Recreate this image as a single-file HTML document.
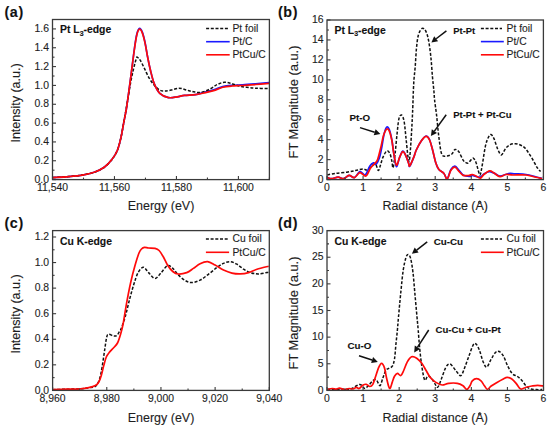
<!DOCTYPE html><html><head><meta charset="utf-8"><style>html,body{margin:0;padding:0;background:#fff;width:550px;height:428px;overflow:hidden}svg{display:block}text{font-family:"Liberation Sans", sans-serif;fill:#1e1e1e;stroke:#1e1e1e;stroke-width:0.12px}.tl{font-size:10.4px}.at{font-size:12.5px}.pl{font-size:14.3px;font-weight:bold;fill:#111;letter-spacing:0.6px}.lg{font-size:10.3px}.an{font-size:9.8px;font-weight:bold;fill:#111}.ft{font-size:12.9px}.ed{font-size:10.4px;font-weight:bold;fill:#111}</style></head><body>
<svg width="550" height="428" viewBox="0 0 550 428">
<defs>
<clipPath id="cla"><rect x="52.50" y="17.50" width="216.90" height="162.10"/></clipPath>
<clipPath id="clb"><rect x="327.00" y="18.00" width="216.40" height="161.60"/></clipPath>
<clipPath id="clc"><rect x="52.60" y="228.60" width="216.70" height="161.80"/></clipPath>
<clipPath id="cld"><rect x="327.00" y="228.60" width="216.50" height="161.80"/></clipPath>
</defs>
<g clip-path="url(#cla)">
<path d="M52.80 177.60 C55.45 177.43 63.57 177.07 68.70 176.60 C73.83 176.13 79.23 175.57 83.60 174.80 C87.97 174.03 91.47 173.25 94.90 172.00 C98.33 170.75 101.40 169.33 104.20 167.30 C107.00 165.27 109.52 162.60 111.70 159.80 C113.88 157.00 115.75 154.23 117.30 150.50 C118.85 146.77 119.92 142.08 121.00 137.40 C122.08 132.72 122.87 127.38 123.80 122.40 C124.73 117.42 125.58 113.97 126.60 107.50 C127.62 101.03 128.98 90.40 129.90 83.60 C130.82 76.80 131.32 72.75 132.10 66.70 C132.88 60.65 133.82 52.70 134.60 47.30 C135.38 41.90 136.02 37.42 136.80 34.30 C137.58 31.18 138.43 29.08 139.30 28.60 C140.17 28.12 141.07 29.22 142.00 31.40 C142.93 33.58 143.95 37.37 144.90 41.70 C145.85 46.03 146.77 52.60 147.70 57.40 C148.63 62.20 149.42 66.13 150.50 70.50 C151.58 74.87 152.65 79.80 154.20 83.60 C155.75 87.40 157.42 90.97 159.80 93.30 C162.18 95.63 165.58 97.02 168.50 97.60 C171.42 98.18 174.63 97.17 177.30 96.80 C179.97 96.43 181.47 95.77 184.50 95.40 C187.53 95.03 192.17 95.13 195.50 94.60 C198.83 94.07 201.48 92.98 204.50 92.20 C207.52 91.42 210.57 90.83 213.60 89.90 C216.63 88.97 219.67 87.37 222.70 86.60 C225.73 85.83 228.47 85.60 231.80 85.30 C235.13 85.00 238.75 85.05 242.70 84.80 C246.65 84.55 251.12 84.17 255.50 83.80 C259.88 83.43 266.75 82.80 269.00 82.60" fill="none" stroke="#1a1aff" stroke-width="1.70" stroke-linejoin="round"/>
<path d="M52.80 177.60 C55.45 177.43 63.57 177.07 68.70 176.60 C73.83 176.13 79.23 175.57 83.60 174.80 C87.97 174.03 91.47 173.25 94.90 172.00 C98.33 170.75 101.40 169.33 104.20 167.30 C107.00 165.27 109.52 162.60 111.70 159.80 C113.88 157.00 115.75 154.23 117.30 150.50 C118.85 146.77 119.88 142.32 121.00 137.40 C122.12 132.48 123.00 126.57 124.00 121.00 C125.00 115.43 125.87 110.55 127.00 104.00 C128.13 97.45 129.70 87.60 130.80 81.70 C131.90 75.80 132.67 72.50 133.60 68.60 C134.53 64.70 135.77 60.17 136.40 58.30 C137.03 56.43 136.77 57.08 137.40 57.40 C138.03 57.72 139.02 58.33 140.20 60.20 C141.38 62.07 143.00 65.60 144.50 68.60 C146.00 71.60 147.52 75.37 149.20 78.20 C150.88 81.03 152.83 83.62 154.60 85.60 C156.37 87.58 158.15 89.20 159.80 90.10 C161.45 91.00 162.63 91.00 164.50 91.00 C166.37 91.00 168.58 90.57 171.00 90.10 C173.42 89.63 176.43 88.22 179.00 88.20 C181.57 88.18 183.97 89.40 186.40 90.00 C188.83 90.60 191.18 91.40 193.60 91.80 C196.02 92.20 198.17 92.87 200.90 92.40 C203.63 91.93 207.27 90.32 210.00 89.00 C212.73 87.68 214.88 85.63 217.30 84.50 C219.72 83.37 222.08 82.35 224.50 82.20 C226.92 82.05 229.38 82.97 231.80 83.60 C234.22 84.23 236.57 85.38 239.00 86.00 C241.43 86.62 243.65 86.93 246.40 87.30 C249.15 87.67 251.90 88.00 255.50 88.20 C259.10 88.40 265.92 88.45 268.00 88.50" fill="none" stroke="#111" stroke-width="1.50" stroke-linejoin="round" stroke-dasharray="3 1.7"/>
<path d="M52.80 177.60 C55.45 177.43 63.57 177.07 68.70 176.60 C73.83 176.13 79.23 175.57 83.60 174.80 C87.97 174.03 91.47 173.25 94.90 172.00 C98.33 170.75 101.40 169.33 104.20 167.30 C107.00 165.27 109.52 162.60 111.70 159.80 C113.88 157.00 115.75 154.23 117.30 150.50 C118.85 146.77 119.92 142.08 121.00 137.40 C122.08 132.72 122.87 127.38 123.80 122.40 C124.73 117.42 125.58 113.97 126.60 107.50 C127.62 101.03 128.98 90.40 129.90 83.60 C130.82 76.80 131.32 72.63 132.10 66.70 C132.88 60.77 133.82 53.28 134.60 48.00 C135.38 42.72 136.02 38.12 136.80 35.00 C137.58 31.88 138.43 29.78 139.30 29.30 C140.17 28.82 141.07 29.92 142.00 32.10 C142.93 34.28 143.95 38.18 144.90 42.40 C145.85 46.62 146.77 52.72 147.70 57.40 C148.63 62.08 149.42 66.13 150.50 70.50 C151.58 74.87 152.65 79.80 154.20 83.60 C155.75 87.40 157.42 90.97 159.80 93.30 C162.18 95.63 165.58 97.02 168.50 97.60 C171.42 98.18 174.63 97.17 177.30 96.80 C179.97 96.43 181.47 95.77 184.50 95.40 C187.53 95.03 192.17 95.02 195.50 94.60 C198.83 94.18 201.48 93.57 204.50 92.90 C207.52 92.23 210.57 91.53 213.60 90.60 C216.63 89.67 219.67 88.07 222.70 87.30 C225.73 86.53 228.47 86.30 231.80 86.00 C235.13 85.70 238.75 85.75 242.70 85.50 C246.65 85.25 251.12 84.87 255.50 84.50 C259.88 84.13 266.75 83.50 269.00 83.30" fill="none" stroke="#ff0a0a" stroke-width="1.70" stroke-linejoin="round"/>
</g>
<g clip-path="url(#clb)">
<path d="M327.30 174.90 C328.73 174.63 332.65 173.75 335.90 173.30 C339.15 172.85 343.53 172.67 346.80 172.20 C350.07 171.73 352.77 171.05 355.50 170.50 C358.23 169.95 361.28 168.98 363.20 168.90 C365.12 168.82 365.55 170.55 367.00 170.00 C368.45 169.45 370.45 166.52 371.90 165.60 C373.35 164.68 374.62 163.68 375.70 164.50 C376.78 165.32 377.60 170.42 378.40 170.50 C379.20 170.58 379.75 167.18 380.50 165.00 C381.25 162.82 381.87 159.73 382.90 157.40 C383.93 155.07 385.53 151.63 386.70 151.00 C387.87 150.37 389.03 151.88 389.90 153.60 C390.77 155.32 391.37 158.95 391.90 161.30 C392.43 163.65 392.57 168.98 393.10 167.70 C393.63 166.42 394.45 159.17 395.10 153.60 C395.75 148.03 396.37 140.08 397.00 134.30 C397.63 128.52 398.15 122.12 398.90 118.90 C399.65 115.68 400.63 114.58 401.50 115.00 C402.37 115.42 403.35 117.55 404.10 121.40 C404.85 125.25 405.37 132.32 406.00 138.10 C406.63 143.88 407.37 152.23 407.90 156.10 C408.43 159.97 408.77 162.58 409.20 161.30 C409.63 160.02 410.07 153.97 410.50 148.40 C410.93 142.83 411.45 133.97 411.80 127.90 C412.15 121.83 412.28 119.38 412.60 112.00 C412.92 104.62 413.27 91.15 413.70 83.60 C414.13 76.05 414.73 72.63 415.20 66.70 C415.67 60.77 415.97 53.28 416.50 48.00 C417.03 42.72 417.47 38.27 418.40 35.00 C419.33 31.73 420.87 29.03 422.10 28.40 C423.33 27.77 424.72 29.17 425.80 31.20 C426.88 33.23 427.75 36.23 428.60 40.60 C429.45 44.97 430.27 51.48 430.90 57.40 C431.53 63.32 431.90 70.50 432.40 76.10 C432.90 81.70 433.53 87.02 433.90 91.00 C434.27 94.98 434.15 95.93 434.60 100.00 C435.05 104.07 435.92 109.45 436.60 115.40 C437.28 121.35 437.85 129.27 438.70 135.70 C439.55 142.13 440.35 150.62 441.70 154.00 C443.05 157.38 445.10 156.00 446.80 156.00 C448.50 156.00 450.53 155.08 451.90 154.00 C453.27 152.92 453.82 149.83 455.00 149.50 C456.18 149.17 457.65 150.23 459.00 152.00 C460.35 153.77 461.73 158.23 463.10 160.10 C464.47 161.97 466.05 163.03 467.20 163.20 C468.35 163.37 469.03 161.95 470.00 161.10 C470.97 160.25 472.02 157.92 473.00 158.10 C473.98 158.28 474.93 159.82 475.90 162.20 C476.87 164.58 478.07 170.35 478.80 172.40 C479.53 174.45 479.68 175.97 480.30 174.50 C480.92 173.03 481.65 168.32 482.50 163.60 C483.35 158.88 484.43 150.55 485.40 146.20 C486.37 141.85 487.38 139.45 488.30 137.50 C489.22 135.55 489.93 134.27 490.90 134.50 C491.87 134.73 492.97 136.47 494.10 138.90 C495.23 141.33 496.48 146.43 497.70 149.10 C498.92 151.77 500.07 155.02 501.40 154.90 C502.73 154.78 504.25 150.10 505.70 148.40 C507.15 146.70 508.52 145.48 510.10 144.70 C511.68 143.92 513.50 143.65 515.20 143.70 C516.90 143.75 518.73 144.35 520.30 145.00 C521.87 145.65 523.15 146.18 524.60 147.60 C526.05 149.02 527.53 151.32 529.00 153.50 C530.47 155.68 532.07 158.40 533.40 160.70 C534.73 163.00 535.80 165.48 537.00 167.30 C538.20 169.12 540.00 170.88 540.60 171.60" fill="none" stroke="#111" stroke-width="1.50" stroke-linejoin="round" stroke-dasharray="3 1.7"/>
<path d="M327.30 177.40 C328.00 177.62 329.70 178.75 331.50 178.70 C333.30 178.65 336.10 177.10 338.10 177.10 C340.10 177.10 341.68 178.98 343.50 178.70 C345.32 178.42 347.18 175.58 349.00 175.40 C350.82 175.22 352.58 178.23 354.40 177.60 C356.22 176.97 358.08 172.05 359.90 171.60 C361.72 171.15 363.67 175.80 365.30 174.90 C366.93 174.00 368.33 168.20 369.70 166.20 C371.07 164.20 372.40 163.27 373.50 162.90 C374.60 162.53 375.30 164.90 376.30 164.00 C377.30 163.10 378.55 160.50 379.50 157.50 C380.45 154.50 381.25 149.83 382.00 146.00 C382.75 142.17 383.22 137.63 384.00 134.50 C384.78 131.37 385.82 128.03 386.70 127.20 C387.58 126.37 388.43 127.37 389.30 129.50 C390.17 131.63 391.15 135.98 391.90 140.00 C392.65 144.02 393.05 149.18 393.80 153.60 C394.55 158.02 395.43 165.87 396.40 166.50 C397.37 167.13 398.53 159.95 399.60 157.40 C400.67 154.85 401.73 151.42 402.80 151.20 C403.87 150.98 405.03 154.10 406.00 156.10 C406.97 158.10 407.97 161.50 408.60 163.20 C409.23 164.90 408.95 167.27 409.80 166.30 C410.65 165.33 412.62 160.12 413.70 157.40 C414.78 154.68 415.02 152.77 416.30 150.00 C417.58 147.23 419.78 143.13 421.40 140.80 C423.02 138.47 424.65 136.22 426.00 136.00 C427.35 135.78 428.40 137.17 429.50 139.50 C430.60 141.83 431.58 146.22 432.60 150.00 C433.62 153.78 434.58 158.98 435.60 162.20 C436.62 165.42 437.33 167.45 438.70 169.30 C440.07 171.15 442.38 171.72 443.80 173.30 C445.22 174.88 446.02 179.43 447.20 178.80 C448.38 178.17 449.62 171.60 450.90 169.50 C452.18 167.40 453.55 166.07 454.90 166.20 C456.25 166.33 457.63 168.83 459.00 170.30 C460.37 171.77 461.40 173.97 463.10 175.00 C464.80 176.03 467.67 176.42 469.20 176.50 C470.73 176.58 471.18 175.50 472.30 175.50 C473.42 175.50 474.57 176.25 475.90 176.50 C477.23 176.75 478.97 177.42 480.30 177.00 C481.63 176.58 482.45 174.90 483.90 174.00 C485.35 173.10 487.30 171.75 489.00 171.60 C490.70 171.45 492.28 172.37 494.10 173.10 C495.92 173.83 497.48 175.93 499.90 176.00 C502.32 176.07 506.08 173.87 508.60 173.50 C511.12 173.13 512.10 173.63 515.00 173.80 C517.90 173.97 522.70 174.05 526.00 174.50 C529.30 174.95 532.12 175.83 534.80 176.50 C537.48 177.17 540.88 178.17 542.10 178.50" fill="none" stroke="#1a1aff" stroke-width="1.70" stroke-linejoin="round"/>
<path d="M327.30 177.40 C328.00 177.62 329.70 178.75 331.50 178.70 C333.30 178.65 336.10 177.10 338.10 177.10 C340.10 177.10 341.68 178.98 343.50 178.70 C345.32 178.42 347.18 175.58 349.00 175.40 C350.82 175.22 352.58 178.05 354.40 177.60 C356.22 177.15 357.98 172.97 359.90 172.70 C361.82 172.43 364.12 176.78 365.90 176.00 C367.68 175.22 369.20 170.00 370.60 168.00 C372.00 166.00 373.15 165.37 374.30 164.00 C375.45 162.63 376.40 162.62 377.50 159.80 C378.60 156.98 379.90 151.13 380.90 147.10 C381.90 143.07 382.53 138.60 383.50 135.60 C384.47 132.60 385.73 129.85 386.70 129.10 C387.67 128.35 388.43 129.17 389.30 131.10 C390.17 133.03 391.15 136.95 391.90 140.70 C392.65 144.45 393.05 149.53 393.80 153.60 C394.55 157.67 395.43 164.47 396.40 165.10 C397.37 165.73 398.53 159.65 399.60 157.40 C400.67 155.15 401.73 151.82 402.80 151.60 C403.87 151.38 405.03 154.17 406.00 156.10 C406.97 158.03 407.97 161.58 408.60 163.20 C409.23 164.82 408.95 166.77 409.80 165.80 C410.65 164.83 412.62 160.03 413.70 157.40 C414.78 154.77 415.02 152.77 416.30 150.00 C417.58 147.23 419.78 143.08 421.40 140.80 C423.02 138.52 424.65 136.47 426.00 136.30 C427.35 136.13 428.40 137.52 429.50 139.80 C430.60 142.08 431.58 146.27 432.60 150.00 C433.62 153.73 434.58 158.98 435.60 162.20 C436.62 165.42 437.33 167.45 438.70 169.30 C440.07 171.15 442.38 171.72 443.80 173.30 C445.22 174.88 446.02 179.30 447.20 178.80 C448.38 178.30 449.62 172.23 450.90 170.30 C452.18 168.37 453.55 167.03 454.90 167.20 C456.25 167.37 457.63 169.93 459.00 171.30 C460.37 172.67 461.40 174.72 463.10 175.40 C464.80 176.08 467.67 175.55 469.20 175.40 C470.73 175.25 471.18 174.40 472.30 174.50 C473.42 174.60 474.57 175.38 475.90 176.00 C477.23 176.62 478.97 178.45 480.30 178.20 C481.63 177.95 482.33 175.72 483.90 174.50 C485.47 173.28 488.00 171.13 489.70 170.90 C491.40 170.67 492.40 172.13 494.10 173.10 C495.80 174.07 497.97 176.47 499.90 176.70 C501.83 176.93 503.52 174.78 505.70 174.50 C507.88 174.22 509.60 174.92 513.00 175.00 C516.40 175.08 522.47 174.67 526.10 175.00 C529.73 175.33 532.13 176.42 534.80 177.00 C537.47 177.58 540.88 178.25 542.10 178.50" fill="none" stroke="#ff0a0a" stroke-width="1.70" stroke-linejoin="round"/>
</g>
<g clip-path="url(#clc)">
<path d="M52.50 389.70 C54.88 389.62 62.17 389.33 66.80 389.20 C71.43 389.07 76.65 389.15 80.30 388.90 C83.95 388.65 86.18 388.12 88.70 387.70 C91.22 387.28 93.58 387.88 95.40 386.40 C97.22 384.92 98.48 382.02 99.60 378.80 C100.72 375.58 101.27 371.85 102.10 367.10 C102.93 362.35 103.82 355.35 104.60 350.30 C105.38 345.25 106.10 339.47 106.80 336.80 C107.50 334.13 107.62 334.43 108.80 334.30 C109.98 334.17 112.50 335.87 113.90 336.00 C115.30 336.13 116.23 335.95 117.20 335.10 C118.17 334.25 119.02 332.03 119.70 330.90 C120.38 329.77 120.33 330.83 121.30 328.30 C122.27 325.77 124.10 320.60 125.50 315.70 C126.90 310.80 128.30 304.17 129.70 298.90 C131.10 293.63 132.50 288.48 133.90 284.10 C135.30 279.72 136.52 275.40 138.10 272.60 C139.68 269.80 141.65 267.30 143.40 267.30 C145.15 267.30 146.67 270.73 148.60 272.60 C150.53 274.47 152.90 278.50 155.00 278.50 C157.10 278.50 159.10 274.75 161.20 272.60 C163.30 270.45 165.67 266.30 167.60 265.60 C169.53 264.90 171.05 266.88 172.80 268.40 C174.55 269.92 176.07 272.70 178.10 274.70 C180.13 276.70 182.73 279.08 185.00 280.40 C187.27 281.72 189.18 282.65 191.70 282.60 C194.22 282.55 197.32 281.48 200.10 280.10 C202.88 278.72 205.62 276.38 208.40 274.30 C211.18 272.22 214.28 269.42 216.80 267.60 C219.32 265.78 221.27 264.38 223.50 263.40 C225.73 262.42 227.97 261.57 230.20 261.70 C232.43 261.83 234.67 262.95 236.90 264.20 C239.13 265.45 241.37 267.80 243.60 269.20 C245.83 270.60 247.80 271.82 250.30 272.60 C252.80 273.38 255.53 273.98 258.60 273.90 C261.67 273.82 267.02 272.40 268.70 272.10" fill="none" stroke="#111" stroke-width="1.50" stroke-linejoin="round" stroke-dasharray="3 1.7"/>
<path d="M52.50 389.70 C54.88 389.62 62.17 389.33 66.80 389.20 C71.43 389.07 76.65 389.15 80.30 388.90 C83.95 388.65 86.18 388.27 88.70 387.70 C91.22 387.13 93.73 386.42 95.40 385.50 C97.07 384.58 97.72 383.87 98.70 382.20 C99.68 380.53 100.45 378.30 101.30 375.50 C102.15 372.70 102.97 368.48 103.80 365.40 C104.63 362.32 105.32 359.25 106.30 357.00 C107.28 354.75 108.43 353.48 109.70 351.90 C110.97 350.32 112.60 348.98 113.90 347.50 C115.20 346.02 116.40 345.17 117.50 343.00 C118.60 340.83 119.55 337.75 120.50 334.50 C121.45 331.25 122.18 328.73 123.20 323.50 C124.22 318.27 125.33 310.02 126.60 303.10 C127.87 296.18 129.40 288.27 130.80 282.00 C132.20 275.73 133.63 270.33 135.00 265.50 C136.37 260.67 137.92 255.75 139.00 253.00 C140.08 250.25 140.58 249.93 141.50 249.00 C142.42 248.07 143.32 247.57 144.50 247.40 C145.68 247.23 146.85 247.83 148.60 248.00 C150.35 248.17 153.25 247.98 155.00 248.40 C156.75 248.82 157.72 249.10 159.10 250.50 C160.48 251.90 161.88 254.35 163.30 256.80 C164.72 259.25 166.02 262.75 167.60 265.20 C169.18 267.65 171.05 270.03 172.80 271.50 C174.55 272.97 175.78 273.82 178.10 274.00 C180.42 274.18 184.15 273.53 186.70 272.60 C189.25 271.67 191.17 269.88 193.40 268.40 C195.63 266.92 197.73 264.82 200.10 263.70 C202.47 262.58 205.10 261.47 207.60 261.70 C210.10 261.93 212.45 263.70 215.10 265.10 C217.75 266.50 220.70 268.77 223.50 270.10 C226.30 271.43 229.12 272.47 231.90 273.10 C234.68 273.73 237.42 273.98 240.20 273.90 C242.98 273.82 245.80 273.38 248.60 272.60 C251.40 271.82 253.65 270.27 257.00 269.20 C260.35 268.13 266.75 266.70 268.70 266.20" fill="none" stroke="#ff0a0a" stroke-width="1.70" stroke-linejoin="round"/>
</g>
<g clip-path="url(#cld)">
<path d="M327.20 389.20 C330.17 389.20 341.03 389.27 345.00 389.20 C348.97 389.13 349.25 389.28 351.00 388.80 C352.75 388.32 354.08 387.02 355.50 386.30 C356.92 385.58 358.42 384.63 359.50 384.50 C360.58 384.37 361.12 384.82 362.00 385.50 C362.88 386.18 363.73 388.57 364.80 388.60 C365.87 388.63 367.07 387.02 368.40 385.70 C369.73 384.38 371.47 381.65 372.80 380.70 C374.13 379.75 375.20 379.17 376.40 380.00 C377.60 380.83 378.92 386.07 380.00 385.70 C381.08 385.33 381.93 380.33 382.90 377.80 C383.87 375.27 384.83 372.07 385.80 370.50 C386.77 368.93 387.62 369.12 388.70 368.40 C389.78 367.68 391.33 367.77 392.30 366.20 C393.27 364.63 393.90 362.62 394.50 359.00 C395.10 355.38 395.42 349.33 395.90 344.50 C396.38 339.67 396.97 334.58 397.40 330.00 C397.83 325.42 397.92 323.43 398.50 317.00 C399.08 310.57 400.12 299.17 400.90 291.40 C401.68 283.63 402.35 276.05 403.20 270.40 C404.05 264.75 405.15 260.15 406.00 257.50 C406.85 254.85 407.52 254.30 408.30 254.50 C409.08 254.70 409.92 255.67 410.70 258.70 C411.48 261.73 412.30 266.87 413.00 272.70 C413.70 278.53 414.23 286.32 414.90 293.70 C415.57 301.08 416.45 310.95 417.00 317.00 C417.55 323.05 417.77 324.93 418.20 330.00 C418.63 335.07 419.00 341.37 419.60 347.40 C420.20 353.43 420.95 360.77 421.80 366.20 C422.65 371.63 423.73 378.32 424.70 380.00 C425.67 381.68 426.52 376.67 427.60 376.30 C428.68 375.93 430.00 376.58 431.20 377.80 C432.40 379.02 433.72 382.03 434.80 383.60 C435.88 385.17 436.62 387.93 437.70 387.20 C438.78 386.47 439.97 382.47 441.30 379.20 C442.63 375.93 444.25 370.13 445.70 367.60 C447.15 365.07 448.32 363.52 450.00 364.00 C451.68 364.48 453.98 368.57 455.80 370.50 C457.62 372.43 459.33 376.32 460.90 375.60 C462.47 374.88 463.78 369.68 465.20 366.20 C466.62 362.72 468.10 358.18 469.40 354.70 C470.70 351.22 471.92 347.12 473.00 345.30 C474.08 343.48 474.82 342.95 475.90 343.80 C476.98 344.65 478.28 347.37 479.50 350.40 C480.72 353.43 481.98 359.22 483.20 362.00 C484.42 364.78 485.47 367.58 486.80 367.10 C488.13 366.62 489.75 361.53 491.20 359.10 C492.65 356.67 494.17 353.77 495.50 352.50 C496.83 351.23 497.87 350.88 499.20 351.50 C500.53 352.12 502.05 353.72 503.50 356.20 C504.95 358.68 506.43 363.50 507.90 366.40 C509.37 369.30 510.72 371.92 512.30 373.60 C513.88 375.28 515.83 375.40 517.40 376.50 C518.97 377.60 520.25 378.62 521.70 380.20 C523.15 381.78 524.63 384.55 526.10 386.00 C527.57 387.45 528.80 388.30 530.50 388.90 C532.20 389.50 534.37 389.48 536.30 389.60 C538.23 389.72 541.13 389.60 542.10 389.60" fill="none" stroke="#111" stroke-width="1.50" stroke-linejoin="round" stroke-dasharray="3 1.7"/>
<path d="M327.20 389.50 C328.05 389.33 330.85 388.55 332.30 388.50 C333.75 388.45 334.70 389.25 335.90 389.20 C337.10 389.15 338.05 388.15 339.50 388.20 C340.95 388.25 343.02 389.45 344.60 389.50 C346.18 389.55 347.60 388.58 349.00 388.50 C350.40 388.42 351.78 389.18 353.00 389.00 C354.22 388.82 355.27 387.48 356.30 387.40 C357.33 387.32 358.12 388.87 359.20 388.50 C360.28 388.13 361.62 385.90 362.80 385.20 C363.98 384.50 365.12 384.08 366.30 384.30 C367.48 384.52 368.82 386.50 369.90 386.50 C370.98 386.50 371.83 386.00 372.80 384.30 C373.77 382.60 374.73 379.08 375.70 376.30 C376.67 373.52 377.63 369.77 378.60 367.60 C379.57 365.43 380.53 363.30 381.50 363.30 C382.47 363.30 383.57 365.18 384.40 367.60 C385.23 370.02 385.78 374.65 386.50 377.80 C387.22 380.95 388.08 384.77 388.70 386.50 C389.32 388.23 389.60 388.93 390.20 388.20 C390.80 387.47 391.58 384.08 392.30 382.10 C393.02 380.12 393.65 377.75 394.50 376.30 C395.35 374.85 396.35 373.52 397.40 373.40 C398.45 373.28 399.75 376.08 400.80 375.60 C401.85 375.12 402.62 372.78 403.70 370.50 C404.78 368.22 405.98 364.18 407.30 361.90 C408.62 359.62 410.03 357.42 411.60 356.80 C413.17 356.18 415.00 357.12 416.70 358.20 C418.40 359.28 420.23 361.25 421.80 363.30 C423.37 365.35 424.65 368.08 426.10 370.50 C427.55 372.92 428.93 375.87 430.50 377.80 C432.07 379.73 433.57 380.90 435.50 382.10 C437.43 383.30 439.92 384.80 442.10 385.00 C444.28 385.20 446.07 383.58 448.60 383.30 C451.13 383.02 454.90 382.90 457.30 383.30 C459.70 383.70 461.43 384.68 463.00 385.70 C464.57 386.72 465.53 389.40 466.70 389.40 C467.87 389.40 469.07 387.12 470.00 385.70 C470.93 384.28 471.20 382.07 472.30 380.90 C473.40 379.73 475.15 378.70 476.60 378.70 C478.05 378.70 479.67 379.68 481.00 380.90 C482.33 382.12 483.52 384.60 484.60 386.00 C485.68 387.40 486.40 389.30 487.50 389.30 C488.60 389.30 489.62 387.15 491.20 386.00 C492.78 384.85 495.07 383.53 497.00 382.40 C498.93 381.27 501.10 380.05 502.80 379.20 C504.50 378.35 505.75 377.38 507.20 377.30 C508.65 377.22 510.05 377.73 511.50 378.70 C512.95 379.67 514.57 381.52 515.90 383.10 C517.23 384.68 518.53 387.22 519.50 388.20 C520.47 389.18 520.60 389.17 521.70 389.00 C522.80 388.83 524.40 387.70 526.10 387.20 C527.80 386.70 529.97 386.32 531.90 386.00 C533.83 385.68 535.77 385.30 537.70 385.30 C539.63 385.30 542.53 385.88 543.50 386.00" fill="none" stroke="#ff0a0a" stroke-width="1.70" stroke-linejoin="round"/>
</g>
<rect x="52.50" y="19.50" width="216.90" height="160.10" fill="none" stroke="#3a3a3a" stroke-width="1.30"/>
<rect x="327.00" y="20.00" width="216.40" height="159.60" fill="none" stroke="#3a3a3a" stroke-width="1.30"/>
<rect x="52.60" y="230.60" width="216.70" height="159.80" fill="none" stroke="#3a3a3a" stroke-width="1.30"/>
<rect x="327.00" y="230.60" width="216.50" height="159.80" fill="none" stroke="#3a3a3a" stroke-width="1.30"/>
<line x1="52.50" y1="179.60" x2="52.50" y2="176.10" stroke="#3a3a3a" stroke-width="1.1"/>
<text x="52.50" y="191.40" text-anchor="middle" class="tl">11,540</text>
<line x1="83.49" y1="179.60" x2="83.49" y2="177.60" stroke="#3a3a3a" stroke-width="1.1"/>
<line x1="114.47" y1="179.60" x2="114.47" y2="176.10" stroke="#3a3a3a" stroke-width="1.1"/>
<text x="114.47" y="191.40" text-anchor="middle" class="tl">11,560</text>
<line x1="145.46" y1="179.60" x2="145.46" y2="177.60" stroke="#3a3a3a" stroke-width="1.1"/>
<line x1="176.44" y1="179.60" x2="176.44" y2="176.10" stroke="#3a3a3a" stroke-width="1.1"/>
<text x="176.44" y="191.40" text-anchor="middle" class="tl">11,580</text>
<line x1="207.43" y1="179.60" x2="207.43" y2="177.60" stroke="#3a3a3a" stroke-width="1.1"/>
<line x1="238.41" y1="179.60" x2="238.41" y2="176.10" stroke="#3a3a3a" stroke-width="1.1"/>
<text x="238.41" y="191.40" text-anchor="middle" class="tl">11,600</text>
<line x1="269.40" y1="179.60" x2="269.40" y2="177.60" stroke="#3a3a3a" stroke-width="1.1"/>
<line x1="52.50" y1="179.60" x2="56.00" y2="179.60" stroke="#3a3a3a" stroke-width="1.1"/>
<text x="49.00" y="182.70" text-anchor="end" class="tl">0.0</text>
<line x1="52.50" y1="170.18" x2="54.50" y2="170.18" stroke="#3a3a3a" stroke-width="1.1"/>
<line x1="52.50" y1="160.76" x2="56.00" y2="160.76" stroke="#3a3a3a" stroke-width="1.1"/>
<text x="49.00" y="163.86" text-anchor="end" class="tl">0.2</text>
<line x1="52.50" y1="151.35" x2="54.50" y2="151.35" stroke="#3a3a3a" stroke-width="1.1"/>
<line x1="52.50" y1="141.93" x2="56.00" y2="141.93" stroke="#3a3a3a" stroke-width="1.1"/>
<text x="49.00" y="145.03" text-anchor="end" class="tl">0.4</text>
<line x1="52.50" y1="132.51" x2="54.50" y2="132.51" stroke="#3a3a3a" stroke-width="1.1"/>
<line x1="52.50" y1="123.09" x2="56.00" y2="123.09" stroke="#3a3a3a" stroke-width="1.1"/>
<text x="49.00" y="126.19" text-anchor="end" class="tl">0.6</text>
<line x1="52.50" y1="113.68" x2="54.50" y2="113.68" stroke="#3a3a3a" stroke-width="1.1"/>
<line x1="52.50" y1="104.26" x2="56.00" y2="104.26" stroke="#3a3a3a" stroke-width="1.1"/>
<text x="49.00" y="107.36" text-anchor="end" class="tl">0.8</text>
<line x1="52.50" y1="94.84" x2="54.50" y2="94.84" stroke="#3a3a3a" stroke-width="1.1"/>
<line x1="52.50" y1="85.42" x2="56.00" y2="85.42" stroke="#3a3a3a" stroke-width="1.1"/>
<text x="49.00" y="88.52" text-anchor="end" class="tl">1.0</text>
<line x1="52.50" y1="76.01" x2="54.50" y2="76.01" stroke="#3a3a3a" stroke-width="1.1"/>
<line x1="52.50" y1="66.59" x2="56.00" y2="66.59" stroke="#3a3a3a" stroke-width="1.1"/>
<text x="49.00" y="69.69" text-anchor="end" class="tl">1.2</text>
<line x1="52.50" y1="57.17" x2="54.50" y2="57.17" stroke="#3a3a3a" stroke-width="1.1"/>
<line x1="52.50" y1="47.75" x2="56.00" y2="47.75" stroke="#3a3a3a" stroke-width="1.1"/>
<text x="49.00" y="50.85" text-anchor="end" class="tl">1.4</text>
<line x1="52.50" y1="38.34" x2="54.50" y2="38.34" stroke="#3a3a3a" stroke-width="1.1"/>
<line x1="52.50" y1="28.92" x2="56.00" y2="28.92" stroke="#3a3a3a" stroke-width="1.1"/>
<text x="49.00" y="32.02" text-anchor="end" class="tl">1.6</text>
<line x1="327.00" y1="179.60" x2="327.00" y2="176.10" stroke="#3a3a3a" stroke-width="1.1"/>
<text x="327.00" y="191.40" text-anchor="middle" class="tl">0</text>
<line x1="345.03" y1="179.60" x2="345.03" y2="177.60" stroke="#3a3a3a" stroke-width="1.1"/>
<line x1="363.07" y1="179.60" x2="363.07" y2="176.10" stroke="#3a3a3a" stroke-width="1.1"/>
<text x="363.07" y="191.40" text-anchor="middle" class="tl">1</text>
<line x1="381.10" y1="179.60" x2="381.10" y2="177.60" stroke="#3a3a3a" stroke-width="1.1"/>
<line x1="399.13" y1="179.60" x2="399.13" y2="176.10" stroke="#3a3a3a" stroke-width="1.1"/>
<text x="399.13" y="191.40" text-anchor="middle" class="tl">2</text>
<line x1="417.17" y1="179.60" x2="417.17" y2="177.60" stroke="#3a3a3a" stroke-width="1.1"/>
<line x1="435.20" y1="179.60" x2="435.20" y2="176.10" stroke="#3a3a3a" stroke-width="1.1"/>
<text x="435.20" y="191.40" text-anchor="middle" class="tl">3</text>
<line x1="453.23" y1="179.60" x2="453.23" y2="177.60" stroke="#3a3a3a" stroke-width="1.1"/>
<line x1="471.27" y1="179.60" x2="471.27" y2="176.10" stroke="#3a3a3a" stroke-width="1.1"/>
<text x="471.27" y="191.40" text-anchor="middle" class="tl">4</text>
<line x1="489.30" y1="179.60" x2="489.30" y2="177.60" stroke="#3a3a3a" stroke-width="1.1"/>
<line x1="507.33" y1="179.60" x2="507.33" y2="176.10" stroke="#3a3a3a" stroke-width="1.1"/>
<text x="507.33" y="191.40" text-anchor="middle" class="tl">5</text>
<line x1="525.37" y1="179.60" x2="525.37" y2="177.60" stroke="#3a3a3a" stroke-width="1.1"/>
<line x1="543.40" y1="179.60" x2="543.40" y2="176.10" stroke="#3a3a3a" stroke-width="1.1"/>
<text x="543.40" y="191.40" text-anchor="middle" class="tl">6</text>
<line x1="327.00" y1="179.60" x2="330.50" y2="179.60" stroke="#3a3a3a" stroke-width="1.1"/>
<text x="323.50" y="182.70" text-anchor="end" class="tl">0</text>
<line x1="327.00" y1="169.62" x2="329.00" y2="169.62" stroke="#3a3a3a" stroke-width="1.1"/>
<line x1="327.00" y1="159.65" x2="330.50" y2="159.65" stroke="#3a3a3a" stroke-width="1.1"/>
<text x="323.50" y="162.75" text-anchor="end" class="tl">2</text>
<line x1="327.00" y1="149.68" x2="329.00" y2="149.68" stroke="#3a3a3a" stroke-width="1.1"/>
<line x1="327.00" y1="139.70" x2="330.50" y2="139.70" stroke="#3a3a3a" stroke-width="1.1"/>
<text x="323.50" y="142.80" text-anchor="end" class="tl">4</text>
<line x1="327.00" y1="129.72" x2="329.00" y2="129.72" stroke="#3a3a3a" stroke-width="1.1"/>
<line x1="327.00" y1="119.75" x2="330.50" y2="119.75" stroke="#3a3a3a" stroke-width="1.1"/>
<text x="323.50" y="122.85" text-anchor="end" class="tl">6</text>
<line x1="327.00" y1="109.77" x2="329.00" y2="109.77" stroke="#3a3a3a" stroke-width="1.1"/>
<line x1="327.00" y1="99.80" x2="330.50" y2="99.80" stroke="#3a3a3a" stroke-width="1.1"/>
<text x="323.50" y="102.90" text-anchor="end" class="tl">8</text>
<line x1="327.00" y1="89.83" x2="329.00" y2="89.83" stroke="#3a3a3a" stroke-width="1.1"/>
<line x1="327.00" y1="79.85" x2="330.50" y2="79.85" stroke="#3a3a3a" stroke-width="1.1"/>
<text x="323.50" y="82.95" text-anchor="end" class="tl">10</text>
<line x1="327.00" y1="69.88" x2="329.00" y2="69.88" stroke="#3a3a3a" stroke-width="1.1"/>
<line x1="327.00" y1="59.90" x2="330.50" y2="59.90" stroke="#3a3a3a" stroke-width="1.1"/>
<text x="323.50" y="63.00" text-anchor="end" class="tl">12</text>
<line x1="327.00" y1="49.93" x2="329.00" y2="49.93" stroke="#3a3a3a" stroke-width="1.1"/>
<line x1="327.00" y1="39.95" x2="330.50" y2="39.95" stroke="#3a3a3a" stroke-width="1.1"/>
<text x="323.50" y="43.05" text-anchor="end" class="tl">14</text>
<line x1="327.00" y1="29.97" x2="329.00" y2="29.97" stroke="#3a3a3a" stroke-width="1.1"/>
<line x1="327.00" y1="20.00" x2="330.50" y2="20.00" stroke="#3a3a3a" stroke-width="1.1"/>
<text x="323.50" y="23.10" text-anchor="end" class="tl">16</text>
<line x1="52.60" y1="390.40" x2="52.60" y2="386.90" stroke="#3a3a3a" stroke-width="1.1"/>
<text x="52.60" y="402.20" text-anchor="middle" class="tl">8,960</text>
<line x1="79.69" y1="390.40" x2="79.69" y2="388.40" stroke="#3a3a3a" stroke-width="1.1"/>
<line x1="106.78" y1="390.40" x2="106.78" y2="386.90" stroke="#3a3a3a" stroke-width="1.1"/>
<text x="106.78" y="402.20" text-anchor="middle" class="tl">8,980</text>
<line x1="133.86" y1="390.40" x2="133.86" y2="388.40" stroke="#3a3a3a" stroke-width="1.1"/>
<line x1="160.95" y1="390.40" x2="160.95" y2="386.90" stroke="#3a3a3a" stroke-width="1.1"/>
<text x="160.95" y="402.20" text-anchor="middle" class="tl">9,000</text>
<line x1="188.04" y1="390.40" x2="188.04" y2="388.40" stroke="#3a3a3a" stroke-width="1.1"/>
<line x1="215.12" y1="390.40" x2="215.12" y2="386.90" stroke="#3a3a3a" stroke-width="1.1"/>
<text x="215.12" y="402.20" text-anchor="middle" class="tl">9,020</text>
<line x1="242.21" y1="390.40" x2="242.21" y2="388.40" stroke="#3a3a3a" stroke-width="1.1"/>
<line x1="269.30" y1="390.40" x2="269.30" y2="386.90" stroke="#3a3a3a" stroke-width="1.1"/>
<text x="269.30" y="402.20" text-anchor="middle" class="tl">9,040</text>
<line x1="52.60" y1="390.40" x2="56.10" y2="390.40" stroke="#3a3a3a" stroke-width="1.1"/>
<text x="49.10" y="393.50" text-anchor="end" class="tl">0.0</text>
<line x1="52.60" y1="377.62" x2="54.60" y2="377.62" stroke="#3a3a3a" stroke-width="1.1"/>
<line x1="52.60" y1="364.83" x2="56.10" y2="364.83" stroke="#3a3a3a" stroke-width="1.1"/>
<text x="49.10" y="367.93" text-anchor="end" class="tl">0.2</text>
<line x1="52.60" y1="352.05" x2="54.60" y2="352.05" stroke="#3a3a3a" stroke-width="1.1"/>
<line x1="52.60" y1="339.26" x2="56.10" y2="339.26" stroke="#3a3a3a" stroke-width="1.1"/>
<text x="49.10" y="342.36" text-anchor="end" class="tl">0.4</text>
<line x1="52.60" y1="326.48" x2="54.60" y2="326.48" stroke="#3a3a3a" stroke-width="1.1"/>
<line x1="52.60" y1="313.70" x2="56.10" y2="313.70" stroke="#3a3a3a" stroke-width="1.1"/>
<text x="49.10" y="316.80" text-anchor="end" class="tl">0.6</text>
<line x1="52.60" y1="300.91" x2="54.60" y2="300.91" stroke="#3a3a3a" stroke-width="1.1"/>
<line x1="52.60" y1="288.13" x2="56.10" y2="288.13" stroke="#3a3a3a" stroke-width="1.1"/>
<text x="49.10" y="291.23" text-anchor="end" class="tl">0.8</text>
<line x1="52.60" y1="275.34" x2="54.60" y2="275.34" stroke="#3a3a3a" stroke-width="1.1"/>
<line x1="52.60" y1="262.56" x2="56.10" y2="262.56" stroke="#3a3a3a" stroke-width="1.1"/>
<text x="49.10" y="265.66" text-anchor="end" class="tl">1.0</text>
<line x1="52.60" y1="249.78" x2="54.60" y2="249.78" stroke="#3a3a3a" stroke-width="1.1"/>
<line x1="52.60" y1="236.99" x2="56.10" y2="236.99" stroke="#3a3a3a" stroke-width="1.1"/>
<text x="49.10" y="240.09" text-anchor="end" class="tl">1.2</text>
<line x1="327.00" y1="390.40" x2="327.00" y2="386.90" stroke="#3a3a3a" stroke-width="1.1"/>
<text x="327.00" y="402.20" text-anchor="middle" class="tl">0</text>
<line x1="345.04" y1="390.40" x2="345.04" y2="388.40" stroke="#3a3a3a" stroke-width="1.1"/>
<line x1="363.08" y1="390.40" x2="363.08" y2="386.90" stroke="#3a3a3a" stroke-width="1.1"/>
<text x="363.08" y="402.20" text-anchor="middle" class="tl">1</text>
<line x1="381.12" y1="390.40" x2="381.12" y2="388.40" stroke="#3a3a3a" stroke-width="1.1"/>
<line x1="399.17" y1="390.40" x2="399.17" y2="386.90" stroke="#3a3a3a" stroke-width="1.1"/>
<text x="399.17" y="402.20" text-anchor="middle" class="tl">2</text>
<line x1="417.21" y1="390.40" x2="417.21" y2="388.40" stroke="#3a3a3a" stroke-width="1.1"/>
<line x1="435.25" y1="390.40" x2="435.25" y2="386.90" stroke="#3a3a3a" stroke-width="1.1"/>
<text x="435.25" y="402.20" text-anchor="middle" class="tl">3</text>
<line x1="453.29" y1="390.40" x2="453.29" y2="388.40" stroke="#3a3a3a" stroke-width="1.1"/>
<line x1="471.33" y1="390.40" x2="471.33" y2="386.90" stroke="#3a3a3a" stroke-width="1.1"/>
<text x="471.33" y="402.20" text-anchor="middle" class="tl">4</text>
<line x1="489.38" y1="390.40" x2="489.38" y2="388.40" stroke="#3a3a3a" stroke-width="1.1"/>
<line x1="507.42" y1="390.40" x2="507.42" y2="386.90" stroke="#3a3a3a" stroke-width="1.1"/>
<text x="507.42" y="402.20" text-anchor="middle" class="tl">5</text>
<line x1="525.46" y1="390.40" x2="525.46" y2="388.40" stroke="#3a3a3a" stroke-width="1.1"/>
<line x1="543.50" y1="390.40" x2="543.50" y2="386.90" stroke="#3a3a3a" stroke-width="1.1"/>
<text x="543.50" y="402.20" text-anchor="middle" class="tl">6</text>
<line x1="327.00" y1="390.40" x2="330.50" y2="390.40" stroke="#3a3a3a" stroke-width="1.1"/>
<text x="323.50" y="393.50" text-anchor="end" class="tl">0</text>
<line x1="327.00" y1="377.08" x2="329.00" y2="377.08" stroke="#3a3a3a" stroke-width="1.1"/>
<line x1="327.00" y1="363.77" x2="330.50" y2="363.77" stroke="#3a3a3a" stroke-width="1.1"/>
<text x="323.50" y="366.87" text-anchor="end" class="tl">5</text>
<line x1="327.00" y1="350.45" x2="329.00" y2="350.45" stroke="#3a3a3a" stroke-width="1.1"/>
<line x1="327.00" y1="337.13" x2="330.50" y2="337.13" stroke="#3a3a3a" stroke-width="1.1"/>
<text x="323.50" y="340.23" text-anchor="end" class="tl">10</text>
<line x1="327.00" y1="323.82" x2="329.00" y2="323.82" stroke="#3a3a3a" stroke-width="1.1"/>
<line x1="327.00" y1="310.50" x2="330.50" y2="310.50" stroke="#3a3a3a" stroke-width="1.1"/>
<text x="323.50" y="313.60" text-anchor="end" class="tl">15</text>
<line x1="327.00" y1="297.18" x2="329.00" y2="297.18" stroke="#3a3a3a" stroke-width="1.1"/>
<line x1="327.00" y1="283.87" x2="330.50" y2="283.87" stroke="#3a3a3a" stroke-width="1.1"/>
<text x="323.50" y="286.97" text-anchor="end" class="tl">20</text>
<line x1="327.00" y1="270.55" x2="329.00" y2="270.55" stroke="#3a3a3a" stroke-width="1.1"/>
<line x1="327.00" y1="257.23" x2="330.50" y2="257.23" stroke="#3a3a3a" stroke-width="1.1"/>
<text x="323.50" y="260.33" text-anchor="end" class="tl">25</text>
<line x1="327.00" y1="243.92" x2="329.00" y2="243.92" stroke="#3a3a3a" stroke-width="1.1"/>
<line x1="327.00" y1="230.60" x2="330.50" y2="230.60" stroke="#3a3a3a" stroke-width="1.1"/>
<text x="323.50" y="233.70" text-anchor="end" class="tl">30</text>
<text x="161" y="210.4" text-anchor="middle" class="at">Energy (eV)</text>
<text x="435.2" y="210.4" text-anchor="middle" class="at">Radial distance (A)</text><circle cx="479.7" cy="202.3" r="1.2" fill="none" stroke="#1e1e1e" stroke-width="0.9"/>
<text x="161" y="421.9" text-anchor="middle" class="at">Energy (eV)</text>
<text x="435.2" y="421.9" text-anchor="middle" class="at">Radial distance (A)</text><circle cx="479.7" cy="413.8" r="1.2" fill="none" stroke="#1e1e1e" stroke-width="0.9"/>
<text transform="translate(20.3,103) rotate(-90)" text-anchor="middle" class="at">Intensity (a.u.)</text>
<text transform="translate(20.3,314) rotate(-90)" text-anchor="middle" class="at">Intensity (a.u.)</text>
<text transform="translate(297.6,102) rotate(-90)" text-anchor="middle" class="ft">FT Magnitude (a.u.)</text>
<text transform="translate(297.6,313) rotate(-90)" text-anchor="middle" class="ft">FT Magnitude (a.u.)</text>
<text x="4.5" y="17" class="pl">(a)</text>
<text x="278" y="17" class="pl">(b)</text>
<text x="4.5" y="228" class="pl">(c)</text>
<text x="278" y="228" class="pl">(d)</text>
<text x="60" y="33.1" class="ed">Pt L<tspan font-size="7" dy="2.5">3</tspan><tspan dy="-2.5">-edge</tspan></text>
<text x="334.5" y="33.5" class="ed">Pt L<tspan font-size="7" dy="2.5">3</tspan><tspan dy="-2.5">-edge</tspan></text>
<text x="60" y="245" class="ed">Cu K-edge</text>
<text x="334.5" y="245" class="ed">Cu K-edge</text>
<line x1="206.10" y1="28.40" x2="228.00" y2="28.40" stroke="#111" stroke-width="1.5" stroke-dasharray="3 1.7"/>
<text x="232.50" y="31.80" class="lg">Pt foil</text>
<line x1="206.10" y1="41.70" x2="229.70" y2="41.70" stroke="#1a1aff" stroke-width="1.6"/>
<text x="232.50" y="45.10" class="lg">Pt/C</text>
<line x1="206.10" y1="54.80" x2="229.70" y2="54.80" stroke="#ff0a0a" stroke-width="1.6"/>
<text x="232.50" y="58.20" class="lg">PtCu/C</text>
<line x1="480.90" y1="28.50" x2="502.00" y2="28.50" stroke="#111" stroke-width="1.5" stroke-dasharray="3 1.7"/>
<text x="506.60" y="31.90" class="lg">Pt foil</text>
<line x1="480.90" y1="41.60" x2="503.80" y2="41.60" stroke="#1a1aff" stroke-width="1.6"/>
<text x="506.60" y="45.00" class="lg">Pt/C</text>
<line x1="480.90" y1="54.80" x2="503.80" y2="54.80" stroke="#ff0a0a" stroke-width="1.6"/>
<text x="506.60" y="58.20" class="lg">PtCu/C</text>
<line x1="205.90" y1="238.90" x2="227.70" y2="238.90" stroke="#111" stroke-width="1.5" stroke-dasharray="3 1.7"/>
<text x="232.50" y="242.30" class="lg">Cu foil</text>
<line x1="205.90" y1="252.30" x2="229.10" y2="252.30" stroke="#ff0a0a" stroke-width="1.6"/>
<text x="232.50" y="255.70" class="lg">PtCu/C</text>
<line x1="480.90" y1="238.90" x2="502.00" y2="238.90" stroke="#111" stroke-width="1.5" stroke-dasharray="3 1.7"/>
<text x="506.60" y="242.30" class="lg">Cu foil</text>
<line x1="480.90" y1="252.30" x2="503.80" y2="252.30" stroke="#ff0a0a" stroke-width="1.6"/>
<text x="506.60" y="255.70" class="lg">PtCu/C</text>
<text x="453.3" y="33.8" class="an" style="font-size:9.4px">Pt-Pt</text>
<line x1="446.40" y1="30.80" x2="436.15" y2="38.73" stroke="#111" stroke-width="1.50"/>
<polygon points="431.40,42.40 434.19,36.20 438.10,41.26" fill="#111"/>
<text x="349.5" y="120.8" class="an">Pt-O</text>
<line x1="360.00" y1="127.60" x2="374.68" y2="132.28" stroke="#111" stroke-width="1.50"/>
<polygon points="380.40,134.10 373.71,135.33 375.65,129.23" fill="#111"/>
<text x="453.2" y="117.9" class="an" style="font-size:9.5px">Pt-Pt + Pt-Cu</text>
<line x1="446.20" y1="114.80" x2="434.41" y2="131.13" stroke="#111" stroke-width="1.50"/>
<polygon points="430.90,136.00 431.82,129.26 437.01,133.01" fill="#111"/>
<text x="433.7" y="244.5" class="an">Cu-Cu</text>
<line x1="427.20" y1="241.90" x2="416.65" y2="250.04" stroke="#111" stroke-width="1.50"/>
<polygon points="411.90,253.70 414.70,247.50 418.61,252.57" fill="#111"/>
<text x="347.4" y="348.8" class="an">Cu-O</text>
<line x1="359.00" y1="355.80" x2="372.09" y2="360.05" stroke="#111" stroke-width="1.50"/>
<polygon points="377.80,361.90 371.11,363.09 373.08,357.00" fill="#111"/>
<text x="435.5" y="333.1" class="an" style="font-size:9.6px">Cu-Cu + Cu-Pt</text>
<line x1="428.70" y1="330.00" x2="417.46" y2="347.36" stroke="#111" stroke-width="1.50"/>
<polygon points="414.20,352.40 414.77,345.62 420.15,349.10" fill="#111"/>
</svg></body></html>
